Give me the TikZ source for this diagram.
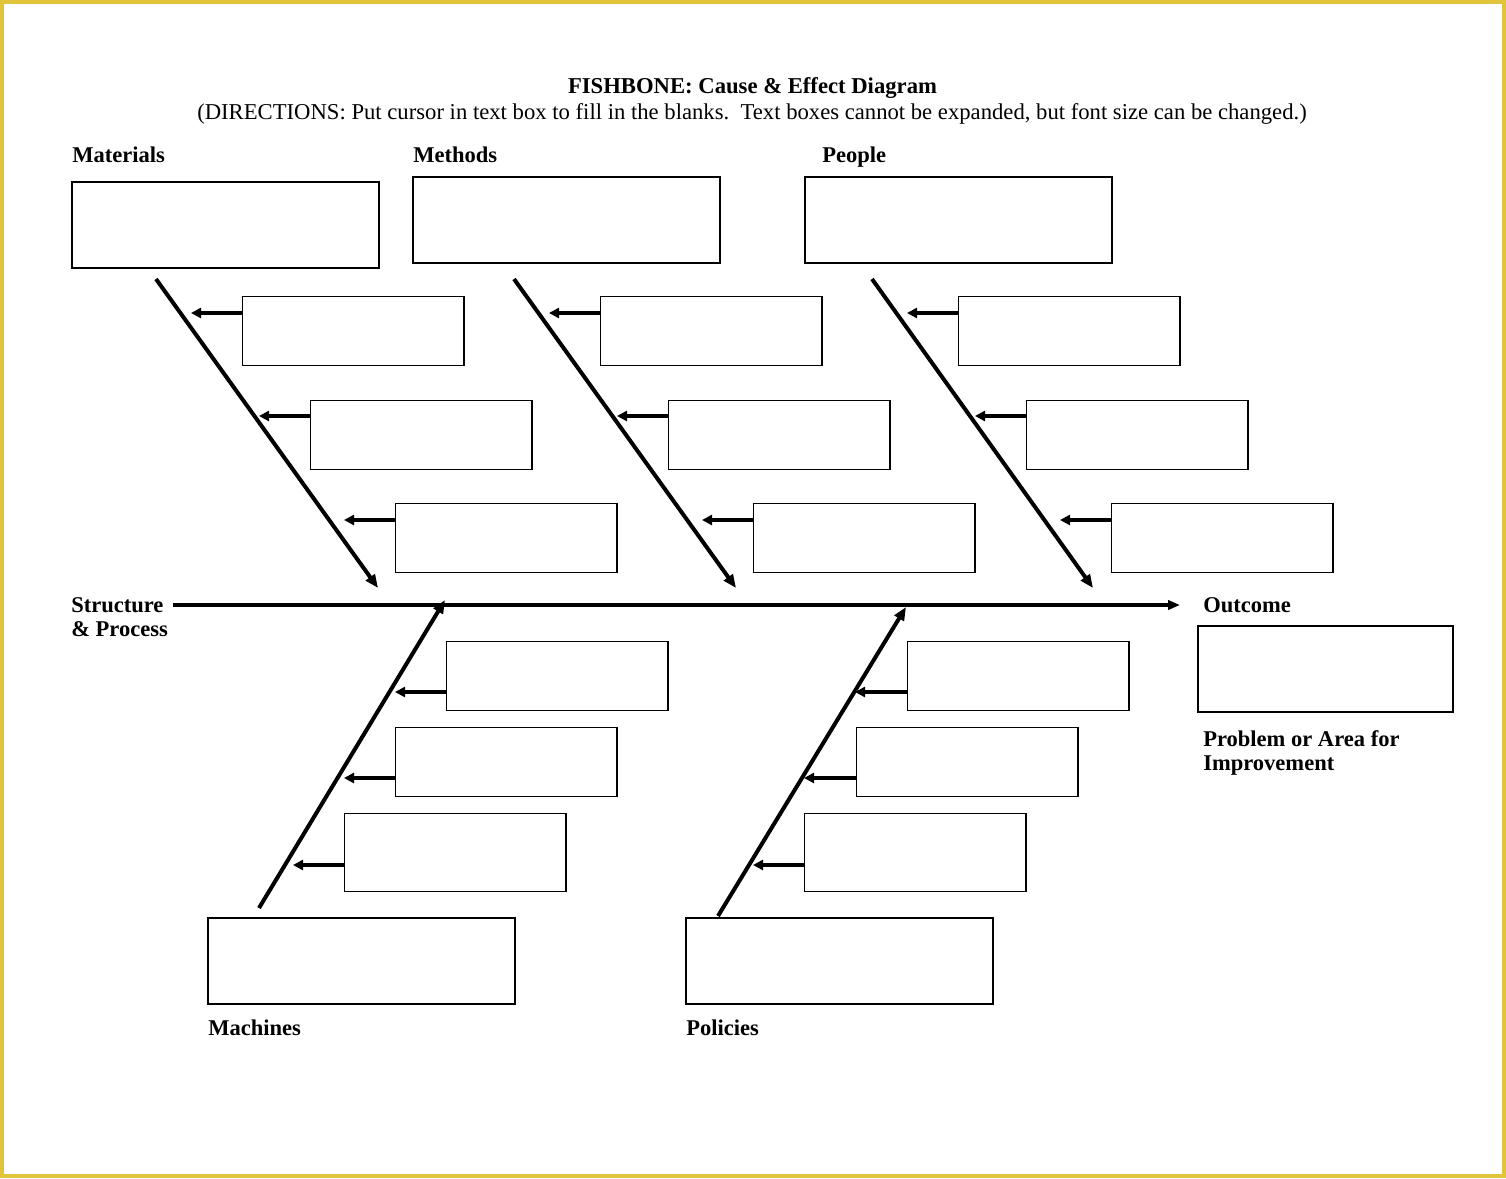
\documentclass[tikz,border=0pt]{standalone}
\usepackage{fontspec}
\setmainfont{Liberation Serif}
\usetikzlibrary{arrows.meta}

\tikzset{
  lbl/.style={anchor=base west,inner sep=0pt,font=\fontsize{16.9}{20}\selectfont\bfseries},
  bigbox/.style={draw,line width=1.4pt,anchor=north west,inner sep=0pt,minimum width=230.25pt,minimum height=64.5pt},
  twigbox/.style={draw,line width=1.1pt,anchor=north west,inner sep=0pt,minimum width=166pt,minimum height=51.5pt},
  bone/.style={line width=3pt,-{Triangle[length=10pt,width=8pt]}},
  twig/.style={line width=2.8pt,-{Triangle[length=7.5pt,width=7.5pt]}},
}

\begin{document}
\begin{tikzpicture}[x=0.75pt,y=0.75pt,yscale=-1,xscale=1]
    %set diagram size to the page: 1506 x 1178
    \useasboundingbox (0,0) rectangle (1506,1178);
    \fill[white] (0,0) rectangle (1506,1178);
    \draw[color={rgb,255:red,226;green,196;blue,58},line width=3pt] (2,2) rectangle (1504,1176);

    % Text Node
    \node (title) [inner sep=0pt,anchor=base,font=\fontsize{17}{20}\selectfont\bfseries] at (752.5,93) {FISHBONE: Cause \& Effect Diagram};
    % Text Node
    \node (dirs) [inner sep=0pt,anchor=base,font=\fontsize{17}{20}\selectfont] at (752,119) {(DIRECTIONS: Put cursor in text box to fill in the blanks.\ \ Text boxes cannot be expanded, but font size can be changed.)};

    % Text Node
    \node (lmat) [lbl] at (72,162) {Materials};
    \node (lmet) [lbl] at (413,162) {Methods};
    \node (lpeo) [lbl] at (822,162) {People};
    \node (lstr) [lbl,align=left] at (71,636) {Structure\\[-2pt]\& Process};
    \node (lout) [lbl] at (1203,612) {Outcome};
    \node (lprob) [lbl,align=left] at (1203,770) {Problem or Area for\\[-2pt]Improvement};
    \node (lmac) [lbl] at (208,1035) {Machines};
    \node (lpol) [lbl] at (686,1035) {Policies};

    %Shape: Rectangle (cause headings)
    \node (mat) [bigbox] at (71,181) {};
    \node (met) [bigbox] at (412,176) {};
    \node (peo) [bigbox] at (804,176) {};
    \node (mac) [bigbox] at (207,917) {};
    \node (pol) [bigbox] at (685,917) {};
    \node (out) [bigbox,minimum width=191.25pt] at (1197,625) {};

    %Shape: Rectangle (sub causes)
    \node (mat1) [twigbox] at (242,296) {};
    \node (mat2) [twigbox] at (310,400) {};
    \node (mat3) [twigbox] at (395,503) {};
    \node (met1) [twigbox] at (600,296) {};
    \node (met2) [twigbox] at (668,400) {};
    \node (met3) [twigbox] at (753,503) {};
    \node (peo1) [twigbox] at (958,296) {};
    \node (peo2) [twigbox] at (1026,400) {};
    \node (peo3) [twigbox] at (1111,503) {};
    \node (mac1) [twigbox] at (446,641) {};
    \node (mac2) [twigbox] at (395,727) {};
    \node (mac3) [twigbox,minimum height=58.5pt] at (344,813) {};
    \node (pol1) [twigbox] at (907,641) {};
    \node (pol2) [twigbox] at (856,727) {};
    \node (pol3) [twigbox,minimum height=58.5pt] at (804,813) {};

    %Bone ends
    \coordinate (spineL) at (173,605);
    \coordinate (spineR) at (1180,605);
    \coordinate (matA) at (156,279);  \coordinate (matB) at (378,588);
    \coordinate (metA) at (514,279);  \coordinate (metB) at (736,588);
    \coordinate (peoA) at (872,279);  \coordinate (peoB) at (1093,588);
    \coordinate (macA) at (259,908);  \coordinate (macB) at (445,600);
    \coordinate (polA) at (718,916);  \coordinate (polB) at (906,607);

    %Arrow tips on the bones
    \coordinate (tmat1) at (191,313); \coordinate (tmat2) at (259,416); \coordinate (tmat3) at (344,520);
    \coordinate (tmet1) at (549,313); \coordinate (tmet2) at (617,416); \coordinate (tmet3) at (702,520);
    \coordinate (tpeo1) at (907,313); \coordinate (tpeo2) at (975,416); \coordinate (tpeo3) at (1060,520);
    \coordinate (tmac1) at (395,692); \coordinate (tmac2) at (344,778); \coordinate (tmac3) at (293,865);
    \coordinate (tpol1) at (855,692); \coordinate (tpol2) at (804,778); \coordinate (tpol3) at (753,865);

    %Straight Lines: spine and bones
    \draw [line width=3.4pt,-{Triangle[length=9pt,width=7pt]}] (spineL) -- (spineR);
    \draw [bone] (matA) -- (matB);
    \draw [bone] (metA) -- (metB);
    \draw [bone] (peoA) -- (peoB);
    \draw [bone] (macA) -- (macB);
    \draw [bone] (polA) -- (polB);

    %Straight Lines: twigs
    \draw [twig] (mat1.west |- tmat1) -- (tmat1);
    \draw [twig] (mat2.west |- tmat2) -- (tmat2);
    \draw [twig] (mat3.west |- tmat3) -- (tmat3);
    \draw [twig] (met1.west |- tmet1) -- (tmet1);
    \draw [twig] (met2.west |- tmet2) -- (tmet2);
    \draw [twig] (met3.west |- tmet3) -- (tmet3);
    \draw [twig] (peo1.west |- tpeo1) -- (tpeo1);
    \draw [twig] (peo2.west |- tpeo2) -- (tpeo2);
    \draw [twig] (peo3.west |- tpeo3) -- (tpeo3);
    \draw [twig] (mac1.west |- tmac1) -- (tmac1);
    \draw [twig] (mac2.west |- tmac2) -- (tmac2);
    \draw [twig] (mac3.west |- tmac3) -- (tmac3);
    \draw [twig] (pol1.west |- tpol1) -- (tpol1);
    \draw [twig] (pol2.west |- tpol2) -- (tpol2);
    \draw [twig] (pol3.west |- tpol3) -- (tpol3);

\end{tikzpicture}
\end{document}
